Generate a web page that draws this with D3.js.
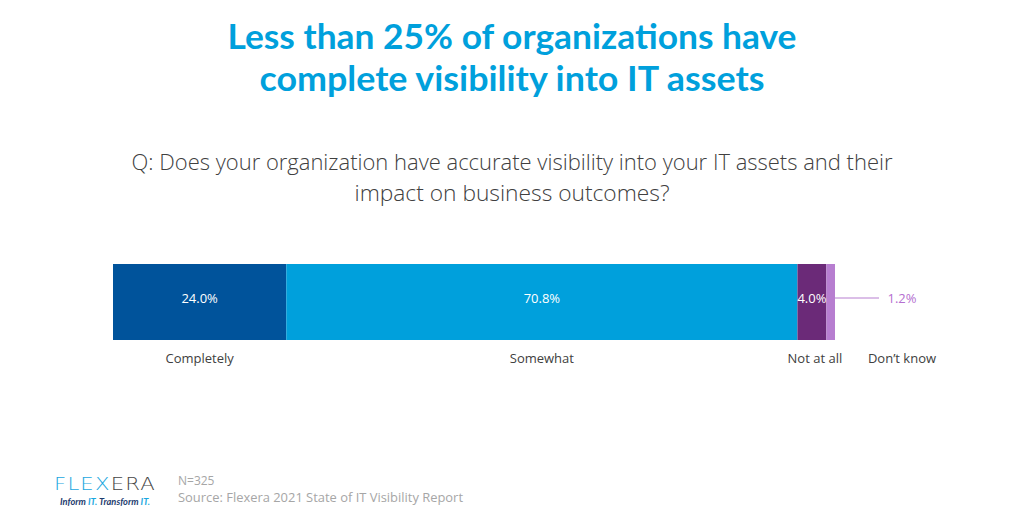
<!DOCTYPE html>
<html><head><meta charset="utf-8">
<script src="https://cdn.jsdelivr.net/npm/d3@7"></script>
<style>body{margin:0;background:#fff}svg{display:block}</style>
</head><body>
<svg id="c" width="1024" height="517"></svg>
<script>
const categories = ["Completely", "Somewhat", "Not at all", "Don\u2019t know"];
const values = [24.0, 70.8, 4.0, 1.2];
const colors = ["#00539b", "#00a0dc", "#6b2a78", "#b77ed0"];
const titleLines = ["Less than 25% of organizations have", "complete visibility into IT assets"];
const questionLines = ["Q: Does your organization have accurate visibility into your IT assets and their", "impact on business outcomes?"];
const footerLines = ["N=325", "Source: Flexera 2021 State of IT Visibility Report"];

const svg = d3.select("#c");
const W = 1024;

function fit(sel, w) { sel.attr("textLength", w).attr("lengthAdjust", "spacingAndGlyphs"); }

// Title
const titleY = [49, 91], titleW = [569, 505];
titleLines.forEach((t, i) => {
  svg.append("text").attr("x", W/2).attr("y", titleY[i]).attr("text-anchor", "middle")
    .attr("font-family", "Lato").attr("font-weight", 700).attr("font-size", 34.5)
    .attr("fill", "#00a0dc").text(t).call(fit, titleW[i]);
});

// Question
const qY = [170, 201], qW = [761, 315];
questionLines.forEach((t, i) => {
  svg.append("text").attr("x", W/2).attr("y", qY[i]).attr("text-anchor", "middle")
    .attr("font-family", "Open Sans").attr("font-weight", 300).attr("font-size", 22.5)
    .attr("fill", "#404040").text(t).call(fit, qW[i]);
});

// Bar
const x = d3.scaleLinear().domain([0, 100]).range([113, 835]);
const barTop = 264, barH = 76;
let cum = 0;
const segs = values.map((v, i) => { const s = {cat: categories[i], v, x0: cum, x1: cum + v, c: colors[i]}; cum += v; return s; });

svg.append("g").selectAll("rect").data(segs).join("rect")
  .attr("x", d => x(d.x0)).attr("width", d => x(d.x1) - x(d.x0))
  .attr("y", barTop).attr("height", barH).attr("fill", d => d.c);

// value labels
const labelY = 303;
svg.append("g").selectAll("text").data(segs.slice(0, 3)).join("text")
  .attr("x", d => (x(d.x0) + x(d.x1)) / 2).attr("y", labelY).attr("text-anchor", "middle")
  .attr("font-family", "Open Sans").attr("font-size", 13).attr("fill", "#fff")
  .text(d => d.v.toFixed(1) + "%");

const last = segs[3];
const outX = 902;
svg.append("line").attr("x1", x(last.x1)).attr("x2", 879).attr("y1", 298).attr("y2", 298)
  .attr("stroke", last.c).attr("stroke-width", 1);
svg.append("text").attr("x", outX).attr("y", labelY).attr("text-anchor", "middle")
  .attr("font-family", "Open Sans").attr("font-size", 13).attr("fill", "#b56fd0")
  .text(last.v.toFixed(1) + "%");

// category labels
svg.append("g").selectAll("text").data(segs).join("text")
  .attr("x", (d, i) => i === 3 ? outX : (x(d.x0) + x(d.x1)) / 2 + (i === 2 ? 3 : 0))
  .attr("y", 363).attr("text-anchor", "middle")
  .attr("font-family", "Open Sans").attr("font-size", 13).attr("fill", "#404040")
  .text(d => d.cat);

// Footer
svg.append("text").attr("x", 178).attr("y", 485).attr("font-family", "Open Sans")
  .attr("font-size", 12).attr("fill", "#a6a6a6").text(footerLines[0]);
svg.append("text").attr("x", 178).attr("y", 502).attr("font-family", "Open Sans")
  .attr("font-size", 12).attr("fill", "#a6a6a6").text(footerLines[1]).call(fit, 285);

// Logo
const logo = svg.append("text").attr("x", 54).attr("y", 490).attr("font-family", "DejaVu Sans")
  .attr("font-size", 18).attr("font-weight", 300).attr("letter-spacing", 1);
logo.append("tspan").attr("fill", "#1aa7e0").text("FLEX");
logo.append("tspan").attr("fill", "#444").text("ERA");
logo.call(fit, 102);
const tag = svg.append("text").attr("x", 60).attr("y", 505).attr("font-family", "Lato")
  .attr("font-size", 8.5).attr("font-style", "italic").attr("font-weight", 700);
tag.append("tspan").attr("fill", "#1d3c6e").text("Inform ");
tag.append("tspan").attr("fill", "#1aa7e0").text("IT.");
tag.append("tspan").attr("fill", "#1d3c6e").text(" Transform ");
tag.append("tspan").attr("fill", "#1aa7e0").text("IT.");
tag.call(fit, 90);
</script>
</body></html>
